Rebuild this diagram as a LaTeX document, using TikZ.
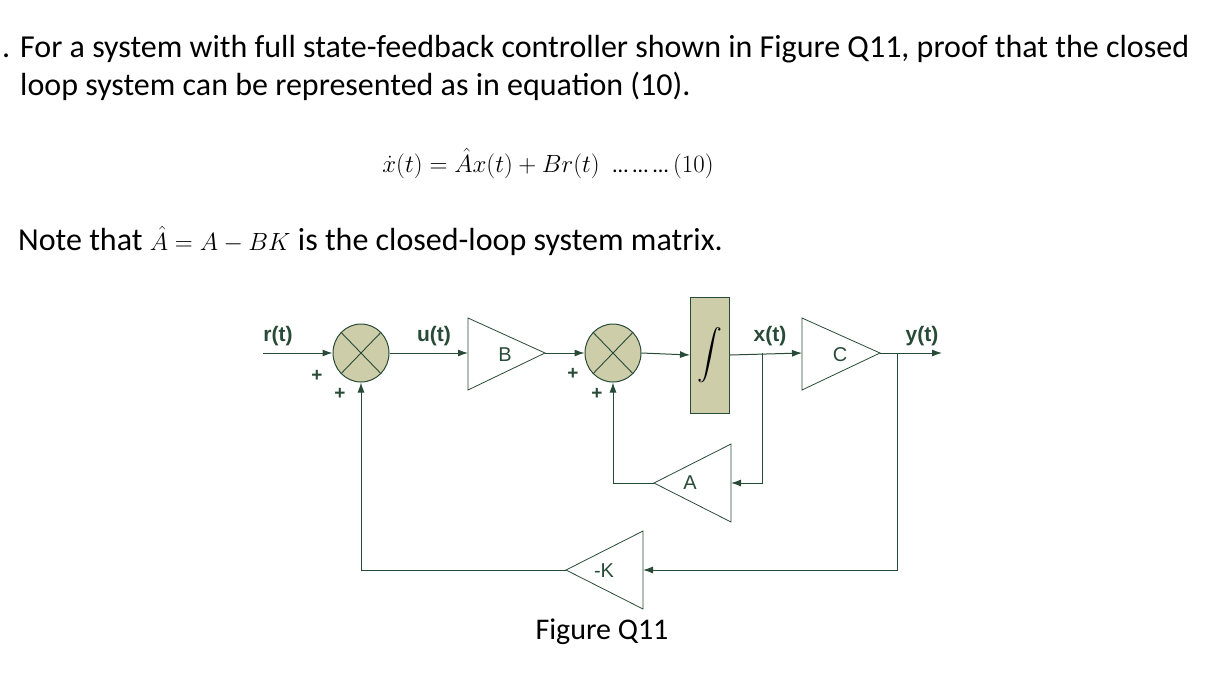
\documentclass[tikz,border=0pt]{standalone}
\usepackage{fontspec}
\usepackage{amsmath}
\setmainfont{Carlito}
\newfontfamily\lab{Liberation Sans}
\usetikzlibrary{arrows.meta,shapes.geometric}
\definecolor{ln}{RGB}{40,75,55}
\definecolor{fl}{RGB}{205,205,170}
\begin{document}
\begin{tikzpicture}[x=1pt,y=-1pt,
  every node/.style={inner sep=0},
  wire/.style={draw=ln,line width=1pt},
  arr/.style={wire,-{Latex[length=10pt,width=7pt]}},
  tri/.style={draw=ln,line width=0.8pt,fill=white},
  lbl/.style={font=\lab\bfseries\fontsize{21}{21}\selectfont,text=ln},
  blk/.style={font=\lab\fontsize{20}{20}\selectfont,text=ln},
  pl/.style={font=\lab\bfseries\fontsize{19}{19}\selectfont,text=ln},
  txt/.style={font=\fontsize{32}{32}\selectfont,anchor=base west}]
\useasboundingbox (0,0) rectangle (1205,673);
\node[txt] (t1) at (20,57) {For a system with full state-feedback controller shown in Figure Q11, proof that the closed};
\node[txt] (t2) at (2,57) {.};
\node[txt] (t3) at (20,95) {loop system can be represented as in equation (10).};
\node[txt,anchor=base] (eq) at (548,172) {\fontsize{29}{29}\selectfont$\dot{x}(t)=\hat{A}x(t)+Br(t)$\ \ {\fontsize{22}{22}\selectfont\dots\ \dots\ \dots}\,$(10)$};
\node[txt] (t4) at (18,250) {Note that {\fontsize{29}{29}\selectfont$\hat{A}=A-BK$} is the closed-loop system matrix.};
% blocks
\node[draw=ln,line width=1pt,fill=fl,ellipse,minimum width=56,minimum height=58] (s1) at (361,353) {};
\draw[ln,line width=0.9pt] (s1.north east)--(s1.south west) (s1.north west)--(s1.south east);
\node[draw=ln,line width=1pt,fill=fl,ellipse,minimum width=56,minimum height=58] (s2) at (613,353) {};
\draw[ln,line width=0.9pt] (s2.north east)--(s2.south west) (s2.north west)--(s2.south east);
\node[draw=ln,line width=1pt,fill=fl,minimum width=39,minimum height=116] (int) at (710,355) {\fontsize{34}{34}\selectfont$\displaystyle\int$};
\draw[tri] (468,318)--(545,353)--(468,390)--cycle; \node[blk] (bB) at (505,355) {B};
\coordinate (Bin) at (468,353); \coordinate (Bout) at (545,353);
\draw[tri] (802,318)--(880,353)--(802,390)--cycle; \node[blk] (bC) at (840,355) {C};
\coordinate (Cin) at (802,353); \coordinate (Cout) at (880,353);
\draw[tri] (731,444)--(654,483)--(731,522)--cycle; \node[blk] (bA) at (690,483) {A};
\coordinate (Ain) at (731,483); \coordinate (Aout) at (654,483);
\draw[tri] (643,531)--(566,570)--(643,609)--cycle; \node[blk] (bK) at (604,571) {-K};
\coordinate (Kin) at (643,570); \coordinate (Kout) at (566,570);
% wires
\coordinate (rin) at (263,353);
\coordinate (xb) at (762,353);
\coordinate (yb) at (897,353);
\coordinate (yout) at (942,353);
\draw[arr] (rin)--(s1.west);
\draw[arr] (s1.east)--(Bin);
\draw[arr] (Bout)--(s2.west);
\draw[arr] (s2.east)--(int.west);
\draw[arr] (int.east)--(Cin);
\draw[arr] (Cout)--(yout);
\draw[arr] (xb)|-(Ain);
\draw[arr] (Aout)-|(s2.south);
\draw[arr] (yb)|-(Kin);
\draw[arr] (Kout)-|(s1.south);
% labels
\node[lbl] (lr) at (278,336) {r(t)};
\node[lbl] (lu) at (434,336) {u(t)};
\node[lbl] (lx) at (770,336) {x(t)};
\node[lbl] (ly) at (922,336) {y(t)};
\node[pl] (p1) at (317,376) {+};
\node[pl] (p2) at (340,394) {+};
\node[pl] (p3) at (573,374) {+};
\node[pl] (p4) at (597,394) {+};
\node[font=\fontsize{30}{30}\selectfont] (fig) at (602,632) {Figure Q11};
\end{tikzpicture}
\end{document}
